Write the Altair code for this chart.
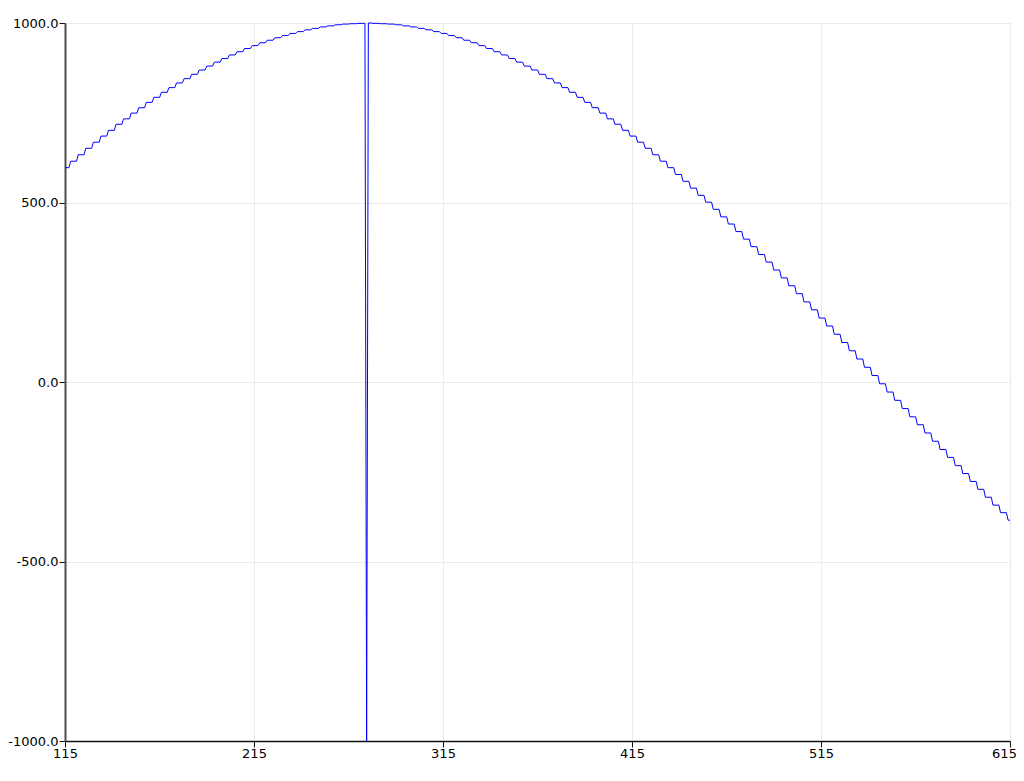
import altair as alt
import pandas as pd

X_TICKS = [115, 215, 315, 415, 515, 615]
Y_TICKS = [-1000, -500, 0, 500, 1000]

# stair-step positions (start of each step)
STEP_X = ([115] + list(range(118, 274, 4)) + [274.6, 275.5]
          + list(range(278, 615, 4)) + [615])

STEP_Y = [597, 615, 633, 651, 668, 685, 701, 718, 733, 749,
          764, 779, 793, 807, 820, 833, 845, 857, 869, 880,
          891, 901, 911, 920, 929, 937, 945, 952, 959, 965,
          971, 976, 981, 985, 989, 992, 995, 997, 998, 999,
          -1000, 1000,
          999, 998, 997, 995, 992, 989, 985, 981, 976, 971,
          965, 959, 952, 945, 937, 929, 920, 911, 901, 891,
          880, 869, 857, 845, 833, 820, 807, 793, 779, 764,
          749, 733, 718, 701, 685, 668, 651, 633, 615, 597,
          578, 559, 540, 520, 501, 481, 460, 440, 419, 398,
          377, 355, 334, 312, 290, 268, 246, 223, 201, 178,
          156, 133, 110, 87, 64, 41, 18, -5, -28, -51,
          -74, -97, -119, -142, -165, -188, -210, -233, -255, -277,
          -299, -321, -343, -364, -385,
          -385]

RISER = 0.9  # horizontal width of each riser, in x units

rows = []
for i, (xv, yv) in enumerate(zip(STEP_X, STEP_Y)):
    rows.append({"x": xv, "y": yv})
    if i + 1 < len(STEP_X) and yv != -1000 and STEP_X[i + 1] - RISER > xv:
        rows.append({"x": STEP_X[i + 1] - RISER, "y": yv})
df = pd.DataFrame(rows)

FONT = "DejaVu Sans"

chart = alt.Chart(df).mark_line(
    color="#0000ff", strokeWidth=1
).encode(
    x=alt.X("x:Q",
            scale=alt.Scale(domain=[115, 615], nice=False, zero=False),
            axis=alt.Axis(values=X_TICKS, format="d", title=None,
                          grid=True, gridColor="#ebebeb", gridWidth=1,
                          domainColor="#111111", domainWidth=1.5,
                          tickColor="#111111", tickSize=6, tickWidth=1,
                          labelPadding=0, labelFont=FONT, labelFontSize=13,
                          labelColor="#000000", labelFlush=False,
                          labelOffset=alt.condition("datum.value == 615",
                                                    alt.value(-6), alt.value(0)),
                          labelOverlap=False)),
    y=alt.Y("y:Q",
            scale=alt.Scale(domain=[-1000, 1000], nice=False, zero=False),
            axis=alt.Axis(values=Y_TICKS, title=None,
                          labelExpr="datum.value < 0 ? '-' + format(abs(datum.value), '.1f') : format(datum.value, '.1f')",
                          grid=True, gridColor="#ebebeb", gridWidth=1,
                          domainColor="#4d4d4d", domainWidth=2,
                          tickColor="#111111", tickSize=6, tickWidth=1,
                          labelPadding=1, labelFont=FONT, labelFontSize=13,
                          labelColor="#000000", labelFlush=False,
                          labelOverlap=False)),
    order="x:Q",
).properties(
    width=945,
    height=718,
    autosize="none",
    padding={"left": 57, "top": 15, "right": 6, "bottom": 24},
).configure_view(stroke=None)

chart.save("out.html", embed_options={"renderer": "svg", "actions": False})
